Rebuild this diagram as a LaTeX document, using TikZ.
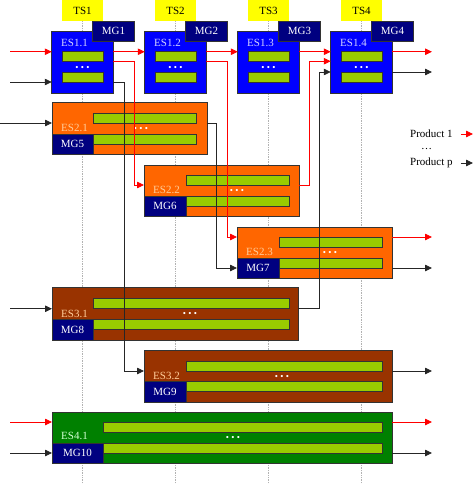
\documentclass[tikz,border=0pt]{standalone}
\usepackage{fontspec}
\setmainfont{Liberation Serif}
\usepackage{tikz}
\usetikzlibrary{arrows.meta}
\definecolor{esblue}{RGB}{0,0,255}
\definecolor{esorange}{RGB}{255,102,0}
\definecolor{esbrown}{RGB}{153,51,0}
\definecolor{esgreen}{RGB}{0,128,0}
\definecolor{mgnavy}{RGB}{0,0,128}
\definecolor{barlime}{RGB}{153,204,0}
\definecolor{tsyellow}{RGB}{255,255,0}
\definecolor{flowred}{RGB}{255,0,0}
\definecolor{lblue}{RGB}{210,210,255}
\definecolor{lorange}{RGB}{255,204,153}
\definecolor{lgreen}{RGB}{210,255,210}
\newcommand\esdots{\textbullet\hspace{2.4pt}\textbullet\hspace{2.4pt}\textbullet}
\tikzset{every node/.style={font=\fontsize{11}{12}\selectfont},
    size/.style 2 args={minimum width=#1pt,minimum height=#2pt},
    box/.style={rectangle,draw=black!80,line width=0.8pt,inner sep=0pt,outer sep=0pt},
    esbox/.style={box},
    bar/.style={box,fill=barlime},
    mgbox/.style={box,fill=mgnavy,text=white},
    tsbox/.style={rectangle,fill=tsyellow,inner sep=0pt,size={41}{21}},
    tsline/.style={draw=gray!60,line width=0.7pt,densely dotted},
    eslabel/.style={anchor=west,inner sep=0pt},
    dotrow/.style={text=white,inner sep=0pt,font=\fontsize{9}{9}\selectfont},
    legtext/.style={anchor=west,inner sep=0pt},
    flow/.style={line width=0.8pt,-{Triangle[length=7pt,width=6.5pt]}},
    prodone/.style={flow,draw=flowred},
    prodp/.style={flow,draw=black!85}}
\begin{document}
\begin{tikzpicture}[x=1pt,y=-1pt]
    \useasboundingbox (0,0) rectangle (474,484);
    % time steps
    \foreach \i/\x in {1/82.5,2/175.5,3/268.5,4/361.5}{
        \node[tsbox] (ts\i) at (\x,10.5) {TS\i};
        \coordinate (tsend\i) at (\x,484);
        \draw[tsline] (ts\i.south) -- (tsend\i);
    }
    % first stage
    \foreach \i/\x in {1/82.5,2/175.5,3/268.5,4/361.5}{
        \node[esbox,fill=esblue,size={61.5}{62}] (es1\i) at (\x,62) {};
        \node[bar,size={41}{9.5}] (top1\i) at (\x,56.5) {};
        \node[bar,size={41}{10}] (bot1\i) at (\x,77) {};
        \node[dotrow] (d1\i) at (\x,68.5) {\esdots};
        \node[eslabel,text=lblue] (l1\i) at (\x-21.5,43) {ES1.\i};
        \node[mgbox,size={41.5}{20}] (mg\i) at (\x+31,31) {MG\i};
    }
    % second stage
    \node[esbox,fill=esorange,size={155}{52}] (es21) at (129.5,128) {};
    \node[bar,size={103}{10}] (top21) at (144.5,118) {};
    \node[bar,size={103}{10}] (bot21) at (144.5,139) {};
    \node[mgbox,size={41}{20}] (mg5) at (72.5,144) {MG5};
    \node[eslabel,text=lorange] (l21) at (61,128) {ES2.1};
    \node[dotrow] (d21) at (141,129) {\esdots};

    \node[esbox,fill=esorange,size={155}{51}] (es22) at (221.5,190.5) {};
    \node[bar,size={103}{10}] (top22) at (237.5,180) {};
    \node[bar,size={103}{10}] (bot22) at (237.5,201) {};
    \node[mgbox,size={42}{20}] (mg6) at (165,206) {MG6};
    \node[eslabel,text=lorange] (l22) at (153,190) {ES2.2};
    \node[dotrow] (d22) at (237,191) {\esdots};

    \node[esbox,fill=esorange,size={155}{51}] (es23) at (314.5,252.5) {};
    \node[bar,size={103}{10}] (top23) at (330.5,242) {};
    \node[bar,size={103}{10}] (bot23) at (330.5,263) {};
    \node[mgbox,size={42}{20}] (mg7) at (258,268) {MG7};
    \node[eslabel,text=lorange] (l23) at (246,252) {ES2.3};
    \node[dotrow] (d23) at (330,253) {\esdots};
    % third stage
    \node[esbox,fill=esbrown,size={246}{53}] (es31) at (175,313.5) {};
    \node[bar,size={196}{10.5}] (top31) at (191,303.5) {};
    \node[bar,size={196}{10}] (bot31) at (191,324) {};
    \node[mgbox,size={41}{21}] (mg8) at (72.5,329.5) {MG8};
    \node[eslabel,text=lorange] (l31) at (61,314) {ES3.1};
    \node[dotrow] (d31) at (190,314) {\esdots};

    \node[esbox,fill=esbrown,size={248}{52}] (es32) at (268,376) {};
    \node[bar,size={196}{10}] (top32) at (284,366) {};
    \node[bar,size={196}{10}] (bot32) at (284,386) {};
    \node[mgbox,size={42}{21}] (mg9) at (165,391.5) {MG9};
    \node[eslabel,text=lorange] (l32) at (153,376) {ES3.2};
    \node[dotrow] (d32) at (282,377) {\esdots};
    % fourth stage
    \node[esbox,fill=esgreen,size={340}{51}] (es41) at (222,437.5) {};
    \node[bar,size={279}{10}] (top41) at (242.5,427) {};
    \node[bar,size={279}{10}] (bot41) at (242.5,448) {};
    \node[mgbox,size={51}{20}] (mg10) at (77.5,453) {MG10};
    \node[eslabel,text=lgreen] (l41) at (61,436) {ES4.1};
    \node[dotrow] (d41) at (233,438.5) {\esdots};

    % flows
    \coordinate (in) at (10,0);
    \coordinate (inzero) at (0,0);
    \coordinate (out) at (432,0);
    \coordinate (downa) at (124,0);
    \coordinate (downb) at (134,0);
    \coordinate (downc) at (216,0);
    \coordinate (downd) at (227,0);
    \coordinate (upa) at (309,0);
    \coordinate (upb) at (319,0);
    \draw[prodone] (in |- top11.north) -- (es11.west |- top11.north);
    \draw[prodp] (in |- bot11.south) -- (es11.west |- bot11.south);
    \draw[prodone] (es11.east |- top11.north) -- (es12.west |- top11.north);
    \draw[prodone] (es12.east |- top12.north) -- (es13.west |- top12.north);
    \draw[prodone] (es13.east |- top13.north) -- (es14.west |- top13.north);
    \draw[prodone] (es14.east |- top14.north) -- (out |- top14.north);
    \draw[prodp] (es14.east |- bot14.north) -- (out |- bot14.north);
    \draw[prodone] (es11.east |- top11.south) -| (downb |- top22.south) -- (es22.west |- top22.south);
    \draw[prodone] (es12.east |- top12.south) -| (downd |- top23.north) -- (es23.west |- top23.north);
    \draw[prodp] (es11.east |- bot11.south) -| (downa |- top32.south) -- (es32.west |- top32.south);
    \draw[prodp] (inzero |- top21.south) -- (es21.west |- top21.south);
    \draw[prodp] (es21.east |- top21.south) -| (downc |- bot23.south) -- (es23.west |- bot23.south);
    \draw[prodone] (es22.east |- top22.south) -| (upa |- top14.south) -- (es14.west |- top14.south);
    \draw[prodone] (es23.east |- top23.north) -- (out |- top23.north);
    \draw[prodp] (es23.east |- bot23.south) -- (out |- bot23.south);
    \draw[prodp] (in |- top31.south) -- (es31.west |- top31.south);
    \draw[prodp] (es31.east |- top31.south) -| (upb |- bot14.north) -- (es14.west |- bot14.north);
    \draw[prodp] (es32.east |- top32.south) -- (out |- top32.south);
    \draw[prodone] (in |- top41.north) -- (es41.west |- top41.north);
    \draw[prodp] (in |- bot41.south) -- (es41.west |- bot41.south);
    \draw[prodone] (es41.east |- top41.north) -- (out |- top41.north);
    \draw[prodp] (es41.east |- bot41.south) -- (out |- bot41.south);

    % legend
    \node[legtext] (leg1) at (410,134) {Product 1};
    \node[legtext] (legdots) at (421,149) {\dots};
    \node[legtext] (legp) at (410,163) {Product p};
    \coordinate (legend1) at (473,134);
    \coordinate (legendp) at (473,163);
    \draw[prodone] ([xshift=8pt]leg1.east) -- (legend1);
    \draw[prodp] ([xshift=8pt]legp.east) -- (legendp);
\end{tikzpicture}
\end{document}
